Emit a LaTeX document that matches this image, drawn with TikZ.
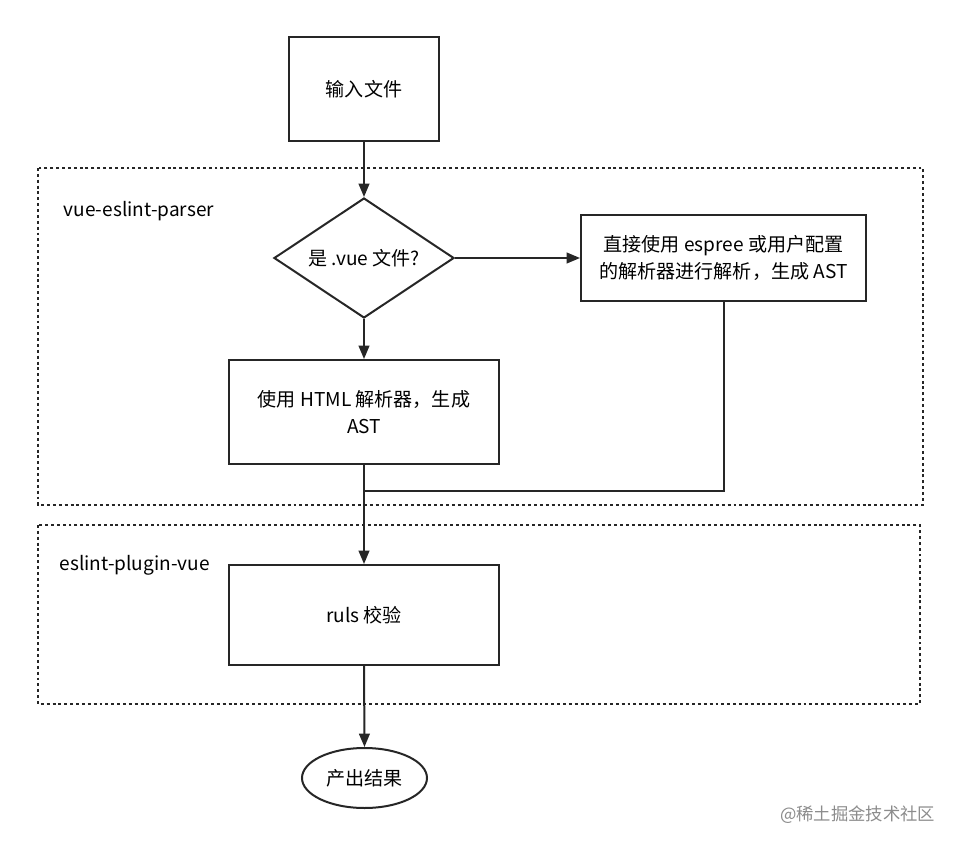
\documentclass[tikz,border=0pt]{standalone}
\usepackage{fontspec}
\setmainfont{Noto Sans CJK SC}
\usetikzlibrary{shapes.geometric,arrows.meta}
\begin{document}
\begin{tikzpicture}[x=0.75pt,y=-0.75pt,
  box/.style={draw=black!85,line width=1.5pt,fill=white,align=center,font=\fontsize{14.3}{20}\selectfont,inner sep=0pt},
  region/.style={draw=black!85,line width=1.5pt,dash pattern=on 2.2pt off 2.2pt},
  lbl/.style={font=\fontsize{14.3}{17}\selectfont,anchor=west},
  arr/.style={draw=black!85,line width=1.5pt,-{Triangle[length=10pt,width=8pt]}},
  ln/.style={draw=black!85,line width=1.5pt}]
\useasboundingbox (0,0) rectangle (961,849);
\fill[white] (0,0) rectangle (961,849);
\draw[region] (38,168) rectangle (923,505);
\draw[region] (38,525) rectangle (920,704);
\node[lbl] (l1) at (59,211) {vue-eslint-parser};
\node[lbl] (l2) at (55,565) {eslint-plugin-vue};
\node[box,minimum width=112.5pt,minimum height=78pt] (in) at (364,89) {输入文件};
\node[box,diamond,minimum width=135pt,minimum height=90pt,inner sep=0pt] (d) at (364,258) {};
\node[font=\fontsize{14.3}{20}\selectfont] (dt) at (364,258) {是 .vue 文件?};
\node[box,minimum width=213.75pt,minimum height=64.5pt] (r) at (723.5,258) {直接使用 espree 或用户配置\\的解析器进行解析，生成 AST};
\node[box,minimum width=202.5pt,minimum height=78pt] (h) at (364,412) {使用 HTML 解析器，生成\\AST};
\node[box,minimum width=202.5pt,minimum height=75pt] (ru) at (364,615) {ruls 校验};
\node[box,ellipse,minimum width=93.75pt,minimum height=45pt] (e) at (364.5,778) {产出结果};
\node[font=\fontsize{13}{15}\selectfont,text=black!45,anchor=east] (wm) at (940,815) {@稀土掘金技术社区};
\draw[arr] (in) -- (d);
\draw[arr] (d.east) -- (r.west);
\draw[arr] (d.south) -- (h.north);
\draw[arr] (h.south) -- (ru.north);
\coordinate (j) at (364,491);
\draw[ln] (724,301) |- (j);
\draw[arr] (ru.south) -- (e.north);
\end{tikzpicture}
\end{document}
